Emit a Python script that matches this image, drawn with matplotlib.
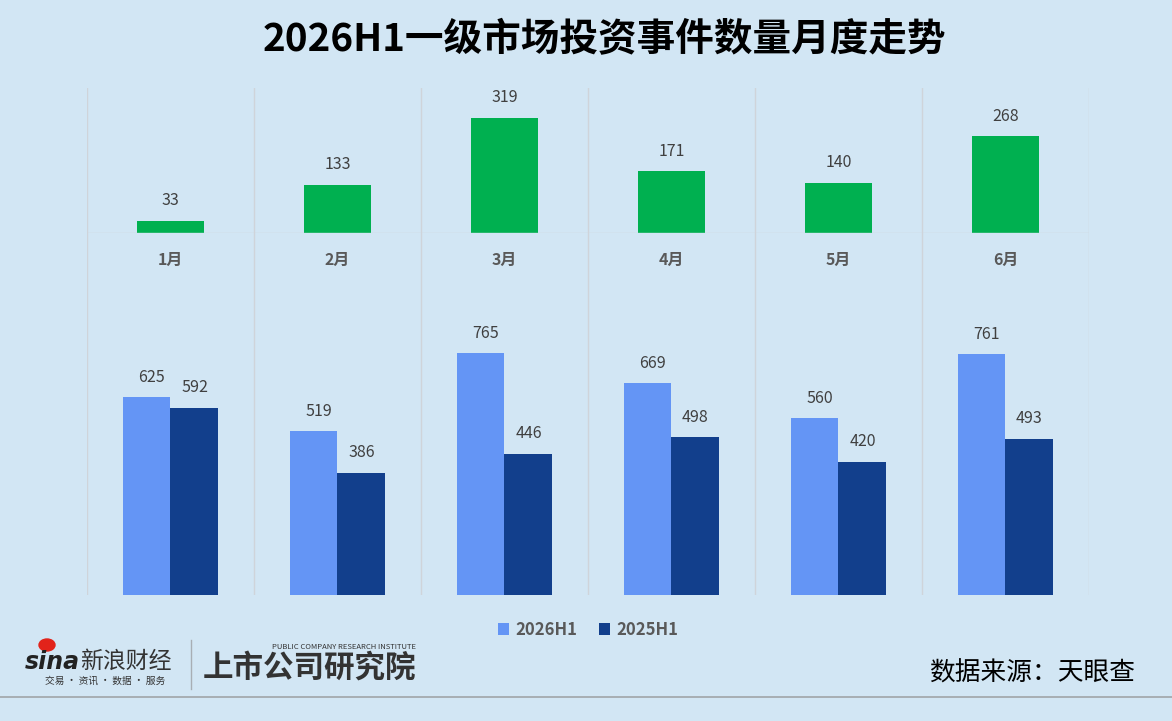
import matplotlib.pyplot as plt
from matplotlib.patches import Ellipse
import numpy as np

plt.rcParams['font.family'] = ['Noto Sans CJK SC', 'DejaVu Sans']

months = ['1月', '2月', '3月', '4月', '5月', '6月']
h1_2026 = [625, 519, 765, 669, 560, 761]
h1_2025 = [592, 386, 446, 498, 420, 493]
diff = [33, 133, 319, 171, 140, 268]

bg = '#d2e6f4'
green = '#00b050'
light = '#6495f5'
dark = '#123f8c'
grid_c = '#cfd4da'
txt = '#404040'

fig = plt.figure(figsize=(11.72, 7.21), dpi=100, facecolor=bg)

W, H = 1172, 721
def ax_at(x0, y0, x1, y1):
    return fig.add_axes([x0 / W, 1 - y1 / H, (x1 - x0) / W, (y1 - y0) / H])

x = np.arange(len(months))

# top panel: increase
ax1 = ax_at(87, 88, 1089, 233)
ax1.set_facecolor('none')
ax1.bar(x, diff, width=0.4, color=green)
for xi, v in zip(x, diff):
    ax1.annotate(str(v), (xi, v), xytext=(0, 14.5), textcoords='offset points',
                 ha='center', va='center', fontsize=11.5, color=txt)
ax1.set_xlim(-0.5, len(months) - 0.5)
ax1.set_ylim(0, 402)

# bottom panel: grouped bars
ax2 = ax_at(87, 233, 1089, 595)
ax2.set_facecolor('none')
bw = 0.287
ax2.bar(x - bw / 2, h1_2026, width=bw, color=light, label='2026H1')
ax2.bar(x + bw / 2, h1_2025, width=bw, color=dark, label='2025H1')
for xi, a, b in zip(x, h1_2026, h1_2025):
    ax2.annotate(str(a), (xi - bw / 2 + 0.03, a), xytext=(0, 14), textcoords='offset points',
                 ha='center', va='center', fontsize=11.5, color=txt)
    ax2.annotate(str(b), (xi + bw / 2, b), xytext=(0, 14.5), textcoords='offset points',
                 ha='center', va='center', fontsize=11.5, color=txt)
ax2.set_xlim(-0.5, len(months) - 0.5)
ax2.set_ylim(0, 1144)
for xi, m in zip(x, months):
    ax2.text(xi, 1060, m, ha='center', va='center', fontsize=11.5, fontweight='bold', color='#595959')

for ax in (ax1, ax2):
    for s in ax.spines.values():
        s.set_visible(False)
    ax.set_xticks([])
    ax.set_yticks([])
    for b in np.arange(-0.5, len(months), 1.0):
        ax.axvline(b, color=grid_c, lw=1)
ax1.axhline(0, color=grid_c, lw=1)

leg = ax2.legend(loc='upper center', bbox_to_anchor=(0.5, -0.03), ncol=2, frameon=False,
                 handlelength=0.65, handleheight=0.65, handletextpad=0.4, columnspacing=1.3,
                 prop={'size': 12, 'weight': 'bold'})
for t in leg.get_texts():
    t.set_color('#595959')

fig.text(604 / W, 1 - 40 / H, '2026H1一级市场投资事件数量月度走势', ha='center', va='center',
         fontsize=27.8, fontweight='bold', color='black')

# footer
fig.text(1135 / W, 1 - 674 / H, '数据来源：天眼查', ha='right', va='center', fontsize=18.5, color='black')
fig.add_artist(plt.Line2D([0, 1], [1 - 697 / H] * 2, color='#a0a4a8', lw=1.2))

fig.text(25 / W, 1 - 662 / H, 'sina', ha='left', va='center', fontsize=17, fontweight='bold',
         fontstyle='italic', color='#222222', family='DejaVu Sans')
fig.add_artist(Ellipse((47 / W, 1 - 645 / H), 16 / W, 12 / H, color='#e2231a',
                       transform=fig.transFigure))
fig.text(80 / W, 1 - 661 / H, '新浪财经', ha='left', va='center', fontsize=16.5, color='#333333')
fig.text(45 / W, 1 - 681 / H, '交易 · 资讯 · 数据 · 服务', ha='left', va='center', fontsize=7,
         color='#333333')
fig.add_artist(plt.Line2D([191 / W, 191 / W], [1 - 640 / H, 1 - 689 / H], color='#a8aeb4', lw=1))
fig.text(272 / W, 1 - 647 / H, 'PUBLIC COMPANY RESEARCH INSTITUTE', ha='left', va='center',
         fontsize=5.5, color='#333333')
fig.text(203 / W, 1 - 668 / H, '上市公司研究院', ha='left', va='center', fontsize=22,
         fontweight='bold', fontstyle='italic', color='#333333')

fig.savefig('out.png', dpi=100, facecolor=bg)
